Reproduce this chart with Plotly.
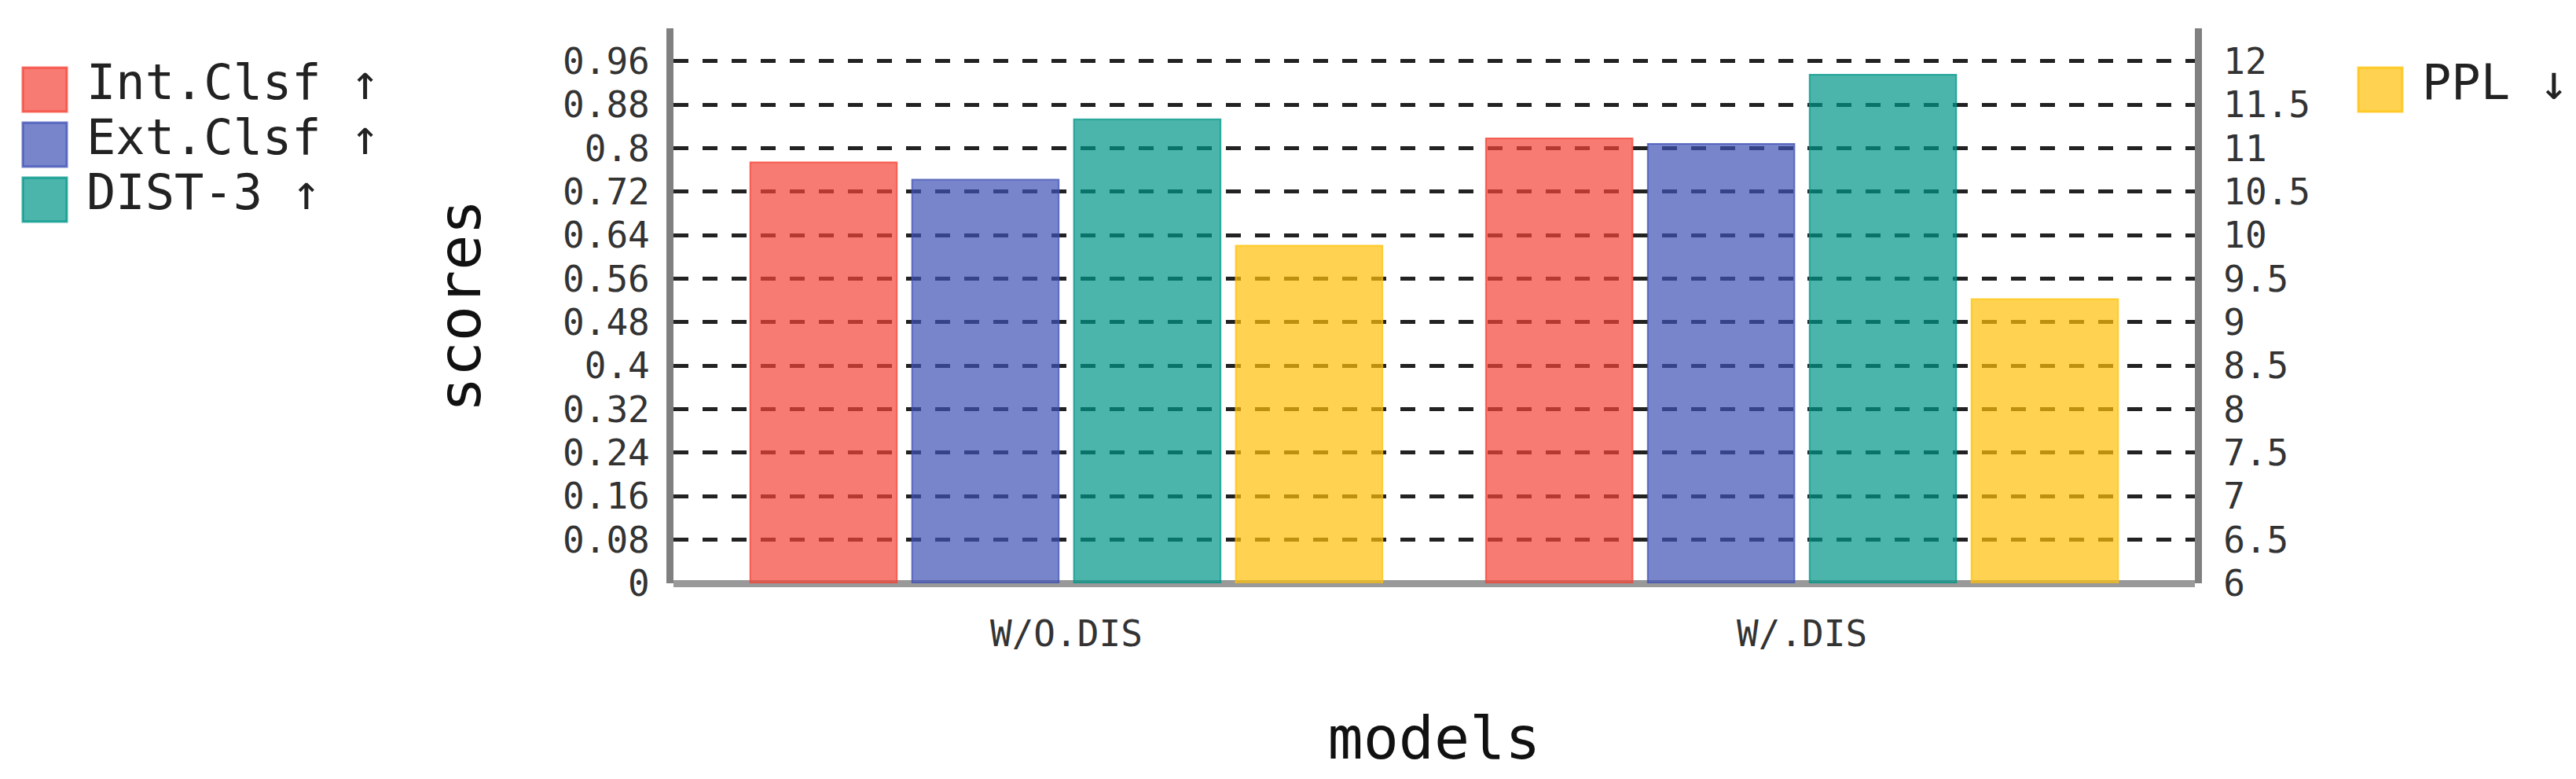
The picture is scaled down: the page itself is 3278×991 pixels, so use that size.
import plotly.graph_objects as go

# values
models = ["W/O.DIS", "W/.DIS"]
int_clsf = [0.774, 0.818]
ext_clsf = [0.742, 0.808]
dist_3 = [0.853, 0.935]
ppl = [9.88, 9.265]

series_names = ["Int.Clsf ↑", "Ext.Clsf ↑", "DIST-3 ↑", "PPL ↓"]
base_rgb = [(244, 67, 54), (63, 81, 181), (0, 150, 136), (255, 193, 7)]

score_ticks = [0, 0.08, 0.16, 0.24, 0.32, 0.4, 0.48, 0.56, 0.64, 0.72, 0.8, 0.88, 0.96]
score_tick_text = ["0", "0.08", "0.16", "0.24", "0.32", "0.4", "0.48", "0.56", "0.64", "0.72", "0.8", "0.88", "0.96"]
ppl_ticks = [6, 6.5, 7, 7.5, 8, 8.5, 9, 9.5, 10, 10.5, 11, 11.5, 12]
ppl_tick_text = ["6", "6.5", "7", "7.5", "8", "8.5", "9", "9.5", "10", "10.5", "11", "11.5", "12"]

# page has an 8px body margin, so the figure is drawn 8px in from the window edge
PAGE_OFFSET = 8
W, H = 3278 - 2 * PAGE_OFFSET, 991 - 2 * PAGE_OFFSET
LEFT, RIGHT, TOP, BOTTOM = 857 - PAGE_OFFSET, 2793 - PAGE_OFFSET, 36 - PAGE_OFFSET, 742 - PAGE_OFFSET
FONT = "DejaVu Sans Mono"


def rgba(rgb, a):
    return f"rgba({rgb[0]},{rgb[1]},{rgb[2]},{a})"


def paper_x(px):
    return (px - PAGE_OFFSET - LEFT) / (RIGHT - LEFT)


def paper_y(py):
    return (BOTTOM - (py - PAGE_OFFSET)) / (BOTTOM - TOP)


fig = go.Figure()
columns = [int_clsf, ext_clsf, dist_3, ppl]
for i, (name, values, rgb) in enumerate(zip(series_names, columns, base_rgb)):
    fig.add_bar(
        x=models,
        y=values,
        name=name,
        offsetgroup=str(i),
        yaxis="y2" if i == 3 else "y",
        marker={"color": rgba(rgb, 0.7), "line": {"color": rgba(rgb, 0.75), "width": 2}},
        showlegend=False,
    )

# hand-made legend: big square swatches like the original (window pixel coords)
shapes = []
annotations = []
legend_slots = [(29, 114, 108, 104), (29, 184, 108, 174), (29, 254, 108, 244), (3001, 114, 3080, 104)]
for name, rgb, (sx, sy, tx, ty) in zip(series_names, base_rgb, legend_slots):
    shapes.append(dict(
        type="rect", xref="paper", yref="paper",
        x0=paper_x(sx), x1=paper_x(sx + 56), y0=paper_y(sy - 28), y1=paper_y(sy + 28),
        fillcolor=rgba(rgb, 0.7), line={"color": rgba(rgb, 0.75), "width": 3},
    ))
    annotations.append(dict(
        text=name, xref="paper", yref="paper", x=paper_x(tx), y=paper_y(ty),
        xanchor="left", yanchor="middle", showarrow=False,
        font={"family": FONT, "size": 62, "color": "#222"},
    ))

fig.update_layout(
    width=W,
    height=H,
    margin={"l": LEFT, "r": W - RIGHT, "t": TOP, "b": H - BOTTOM, "pad": 0},
    paper_bgcolor="white",
    plot_bgcolor="white",
    barmode="group",
    bargap=0.12,
    bargroupgap=0.094,
    font={"family": FONT, "color": "#222"},
    shapes=shapes,
    annotations=annotations,
    xaxis={
        "range": [-0.534, 1.534],
        "automargin": False,
        "showline": False,
        "showgrid": False,
        "tickfont": {"size": 46, "color": "#333"},
        "ticklabelstandoff": 33,
        "title": {"text": "models", "font": {"size": 75, "color": "#111"}, "standoff": 95},
    },
    yaxis={
        "range": [0, 1.0204],
        "automargin": False,
        "tickvals": score_ticks,
        "ticktext": score_tick_text,
        "showgrid": True,
        "gridcolor": "#222",
        "gridwidth": 5,
        "griddash": "19px,18px",
        "zeroline": True,
        "zerolinecolor": "#999",
        "zerolinewidth": 9,
        "showline": True,
        "linecolor": "#808080",
        "linewidth": 9,
        "tickfont": {"size": 46, "color": "#333"},
        "ticklabelstandoff": 12,
        "title": {"text": "scores", "font": {"size": 75, "color": "#111"}, "standoff": 83},
    },
    yaxis2={
        "overlaying": "y",
        "side": "right",
        "automargin": False,
        "range": [6, 12.3775],
        "tickvals": ppl_ticks,
        "ticktext": ppl_tick_text,
        "showgrid": False,
        "zeroline": False,
        "showline": True,
        "linecolor": "#808080",
        "linewidth": 9,
        "tickfont": {"size": 46, "color": "#333"},
        "ticklabelstandoff": 18,
    },
)

fig.write_html("out.html")
